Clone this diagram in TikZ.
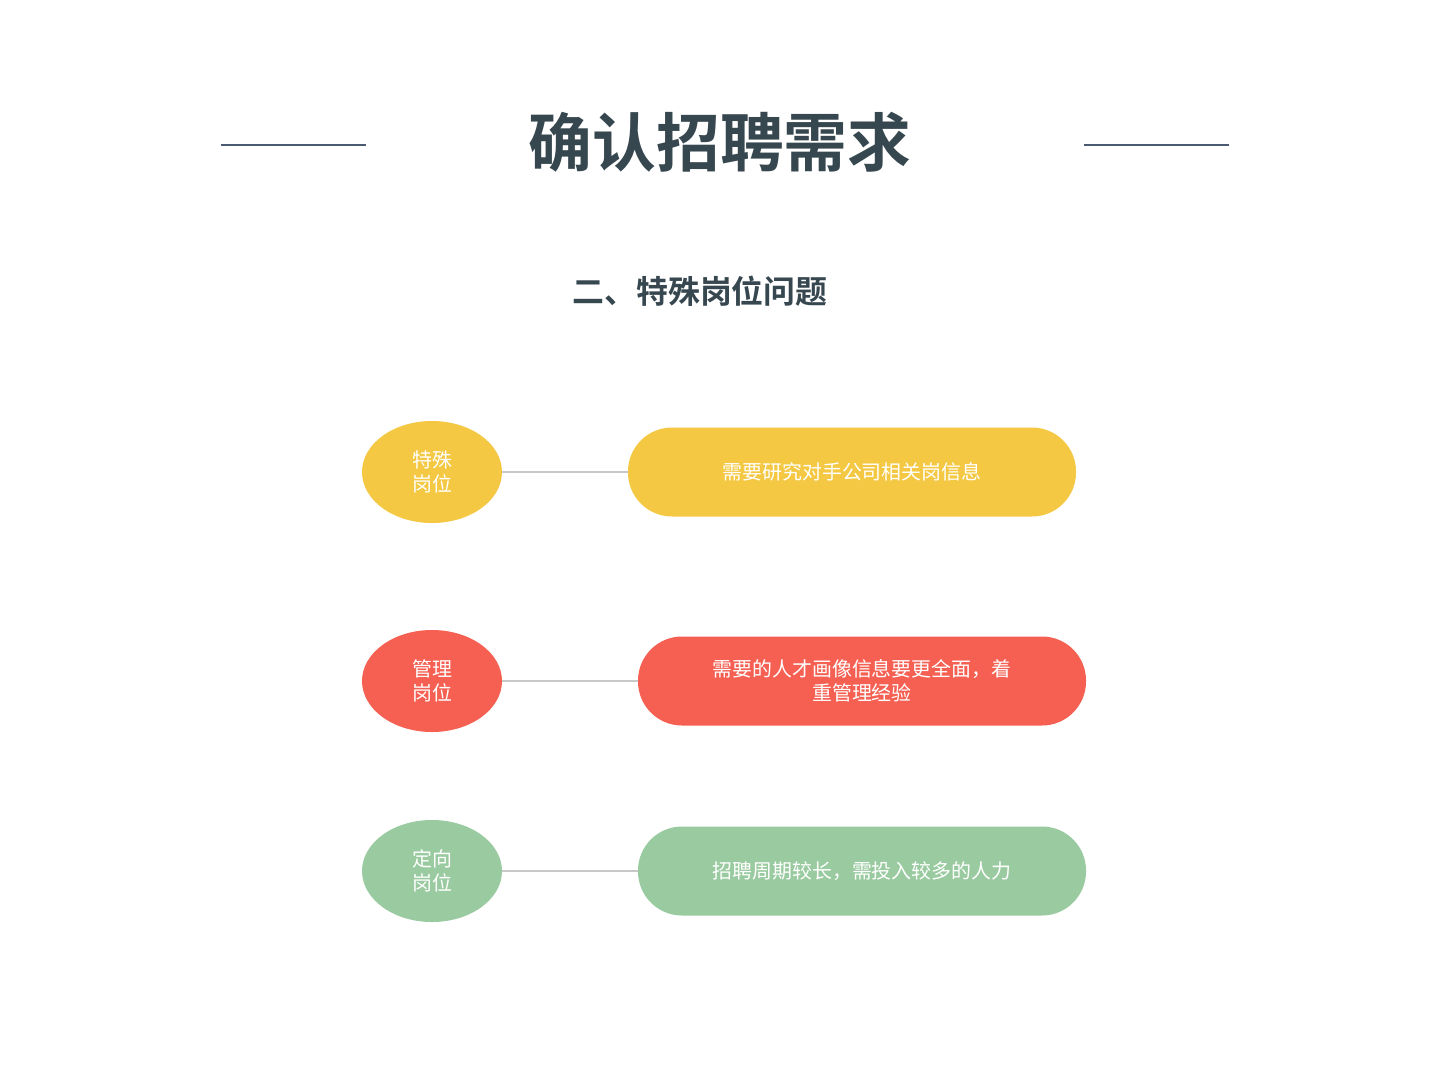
\documentclass[tikz,border=0pt]{standalone}
\usepackage{fontspec}
\usetikzlibrary{shapes.geometric}
\newfontfamily\cjk{Noto Sans CJK SC}
\newfontfamily\cjkb{Noto Sans CJK SC Bold}
\definecolor{cy}{HTML}{F4C842}
\definecolor{cr}{HTML}{F56052}
\definecolor{cg}{HTML}{9ACBA0}
\definecolor{tt}{HTML}{37474F}
\definecolor{ln}{HTML}{4A5A70}
\definecolor{cn}{HTML}{C8C8C8}
\begin{document}
\begin{tikzpicture}[x=1bp,y=-1bp,
  oval/.style={ellipse,minimum width=140bp,minimum height=102bp,inner sep=0pt,text=white,font=\cjk\fontsize{20}{24}\selectfont,align=center},
  bar/.style={rounded corners=44bp,minimum height=89bp,inner sep=0pt,text=white,font=\cjk\fontsize{20}{24}\selectfont,align=center},
  conn/.style={draw=cn,line width=1.5bp}]
\useasboundingbox (0,0) rectangle (1440,1080);
\fill[white] (0,0) rectangle (1440,1080);
\draw[ln,line width=1.3bp] (221,145) -- (366,145) (1084,145) -- (1229,145);
\node[text=tt,font=\cjkb\fontsize{64}{70}\selectfont] (title) at (720,142) {确认招聘需求};
\node[text=tt,font=\cjkb\fontsize{32}{38}\selectfont] (sub) at (700,291) {二、特殊岗位问题};
\node[oval,fill=cy] (e1) at (432,472) {特殊\\岗位};
\node[oval,fill=cr] (e2) at (432,681) {管理\\岗位};
\node[oval,fill=cg] (e3) at (432,871) {定向\\岗位};
\node[bar,fill=cy,minimum width=448bp] (r1) at (852,472) {需要研究对手公司相关岗信息};
\node[bar,fill=cr,minimum width=448bp,text width=400bp] (r2) at (862,681) {需要的人才画像信息要更全面，着\\重管理经验};
\node[bar,fill=cg,minimum width=448bp] (r3) at (862,871) {招聘周期较长，需投入较多的人力};
\draw[conn] (e1.east) -- (r1.west);
\draw[conn] (e2.east) -- (r2.west);
\draw[conn] (e3.east) -- (r3.west);
\end{tikzpicture}
\end{document}
